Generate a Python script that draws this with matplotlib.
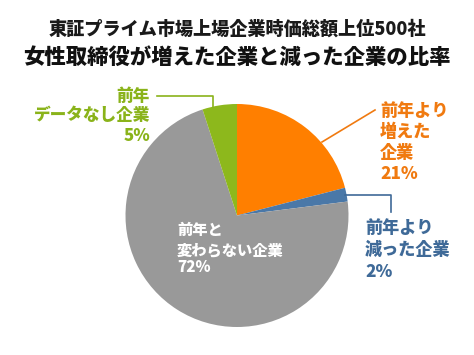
import matplotlib
matplotlib.use("Agg")
import matplotlib.pyplot as plt

plt.rcParams["font.family"] = ["Noto Sans CJK JP", "DejaVu Sans"]

# data
labels = ["前年より増えた企業", "前年より減った企業", "前年と変わらない企業", "前年データなし企業"]
shares = [21, 2, 72, 5]
colors = ["#FF7F00", "#4A78A8", "#999999", "#8DB81C"]
text_colors = ["#F07A10", "#3F6A98", "#FFFFFF", "#8AB31A"]
title_lines = ["東証プライム市場上場企業時価総額上位500社", "女性取締役が増えた企業と減った企業の比率"]

W, H = 474, 355
fig = plt.figure(figsize=(W / 100, H / 100), dpi=100)
ax = fig.add_axes([0, 0, 1, 1])


def Y(y):
    # image pixel row -> axes coordinate
    return H - y


ax.pie(shares, colors=colors, startangle=90, counterclock=False,
       center=(237, Y(215.5)), radius=111.5, frame=True,
       wedgeprops=dict(linewidth=0))
ax.set_xlim(0, W)
ax.set_ylim(0, H)
ax.set_aspect("auto")
ax.axis("off")

# titles
ax.text(237, Y(29), title_lines[0], ha="center", va="center",
        fontsize=13.1, fontweight=900, color="#1a1a1a")
ax.text(237, Y(57), title_lines[1], ha="center", va="center",
        fontsize=15.4, fontweight=900, color="#111111")


def block(x, ys, lines, color, size, ha="left"):
    for y, s in zip(ys, lines):
        ax.text(x, Y(y), s, ha=ha, va="center", fontsize=size,
                fontweight=900, color=color)


pct = [f"{v}%" for v in shares]

# increased
block(380, [111, 132, 153, 174], ["前年より", "増えた", "企業", pct[0]],
      text_colors[0], 12.3)
ax.plot([375, 322], [Y(110), Y(142)], color=text_colors[0], lw=1.2)

# decreased
block(365, [228, 250, 272], ["前年より", "減った企業", pct[1]],
      text_colors[1], 12.3)
ax.plot([345, 391, 391], [Y(195), Y(195), Y(212)], color=text_colors[1], lw=1.2)

# unchanged
block(177, [231, 251, 268], ["前年と", "変わらない企業", pct[2]],
      text_colors[2], 11)

# no data
block(150, [96, 115, 136], ["前年", "データなし企業", pct[3]],
      text_colors[3], 12, ha="right")
ax.plot([157, 213, 213], [Y(96), Y(96), Y(107)], color=text_colors[3], lw=1.2)

fig.savefig("out.png", dpi=100, facecolor="white")
